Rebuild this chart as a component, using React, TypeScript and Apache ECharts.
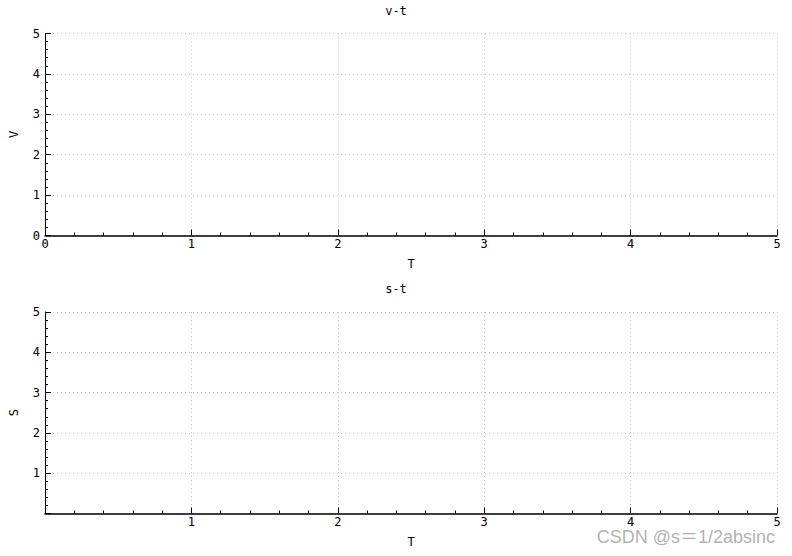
import React, { useEffect, useRef } from "react";
import * as echarts from "echarts";

const xTicks = [0, 1, 2, 3, 4, 5];
const yTicks = [0, 1, 2, 3, 4, 5];
const vtData: [number, number][] = [];
const stData: [number, number][] = [];
const titles = ["v-t", "s-t"];
const yNames = ["V", "S"];
const xName = "T";
const watermark = "CSDN @s\uFF1D1/2absinc";

const MONO = "'DejaVu Sans Mono', monospace";

function xAxis(gridIndex: number, showZero: boolean) {
  return {
    type: "value",
    gridIndex,
    min: xTicks[0],
    max: xTicks[xTicks.length - 1],
    interval: 1,
    name: xName,
    nameLocation: "middle",
    nameGap: 22,
    nameTextStyle: { fontFamily: MONO, fontSize: 12, color: "#000" },
    axisLine: { show: true, onZero: false, lineStyle: { color: "#000", width: 1.5 } },
    axisTick: { show: true, inside: true, length: 6, lineStyle: { color: "#000" } },
    minorTick: { show: true, splitNumber: 5, length: 3, lineStyle: { color: "#000" } },
    axisLabel: {
      margin: 3,
      fontFamily: MONO,
      fontSize: 12,
      lineHeight: 10,
      color: "#000",
      showMinLabel: true,
      showMaxLabel: true,
      formatter: (v: number) => (showZero || v !== 0 ? String(v) : ""),
    },
    splitLine: { show: true, lineStyle: { color: "#c4c4c4", type: [1, 3], width: 1 } },
  };
}

function yAxis(gridIndex: number, name: string, showZero: boolean) {
  return {
    type: "value",
    gridIndex,
    min: yTicks[0],
    max: yTicks[yTicks.length - 1],
    interval: 1,
    name,
    nameLocation: "middle",
    nameGap: 25,
    nameTextStyle: { fontFamily: MONO, fontSize: 12, color: "#000" },
    axisLine: { show: true, onZero: false, lineStyle: { color: "#000", width: 1 } },
    axisTick: { show: true, inside: true, length: 6, lineStyle: { color: "#000" } },
    minorTick: { show: true, splitNumber: 5, length: 3, lineStyle: { color: "#000" } },
    axisLabel: {
      margin: 5,
      fontFamily: MONO,
      fontSize: 12,
      color: "#000",
      showMinLabel: true,
      showMaxLabel: true,
      formatter: (v: number) => (showZero || v !== 0 ? String(v) : ""),
    },
    splitLine: { show: true, lineStyle: { color: "#c4c4c4", type: [1, 3], width: 1 } },
  };
}

export default function App() {
  const ref = useRef<HTMLDivElement>(null);
  useEffect(() => {
    if (!ref.current) return;
    const chart = echarts.init(ref.current, undefined, { renderer: "svg" });
    chart.setOption({
      animation: false,
      backgroundColor: "#fff",
      title: [
        {
          text: titles[0],
          left: "center",
          top: 5,
          padding: 0,
          textStyle: { fontFamily: MONO, fontSize: 12, fontWeight: "normal", color: "#000" },
        },
        {
          text: titles[1],
          left: "center",
          top: 283,
          padding: 0,
          textStyle: { fontFamily: MONO, fontSize: 12, fontWeight: "normal", color: "#000" },
        },
      ],
      grid: [
        { left: 44, top: 33.5, width: 733, height: 202 },
        { left: 44, top: 312, width: 733, height: 201.5 },
      ],
      xAxis: [xAxis(0, true), xAxis(1, false)],
      yAxis: [yAxis(0, yNames[0], true), yAxis(1, yNames[1], false)],
      series: [
        { type: "line", name: titles[0], xAxisIndex: 0, yAxisIndex: 0, data: vtData, showSymbol: false },
        { type: "line", name: titles[1], xAxisIndex: 1, yAxisIndex: 1, data: stData, showSymbol: false },
      ],
      graphic: [
        {
          type: "text",
          right: 17,
          top: 528,
          style: {
            text: watermark,
            font: "18px 'Liberation Sans', 'Noto Sans CJK SC', sans-serif",
            lineHeight: 16,
            fill: "rgba(150,150,150,0.75)",
          },
        },
      ],
    });
    return () => chart.dispose();
  }, []);
  return (
    <div
      ref={ref}
      style={{ position: "fixed", left: 0, top: 0, width: 792, height: 556, background: "#fff" }}
    />
  );
}
